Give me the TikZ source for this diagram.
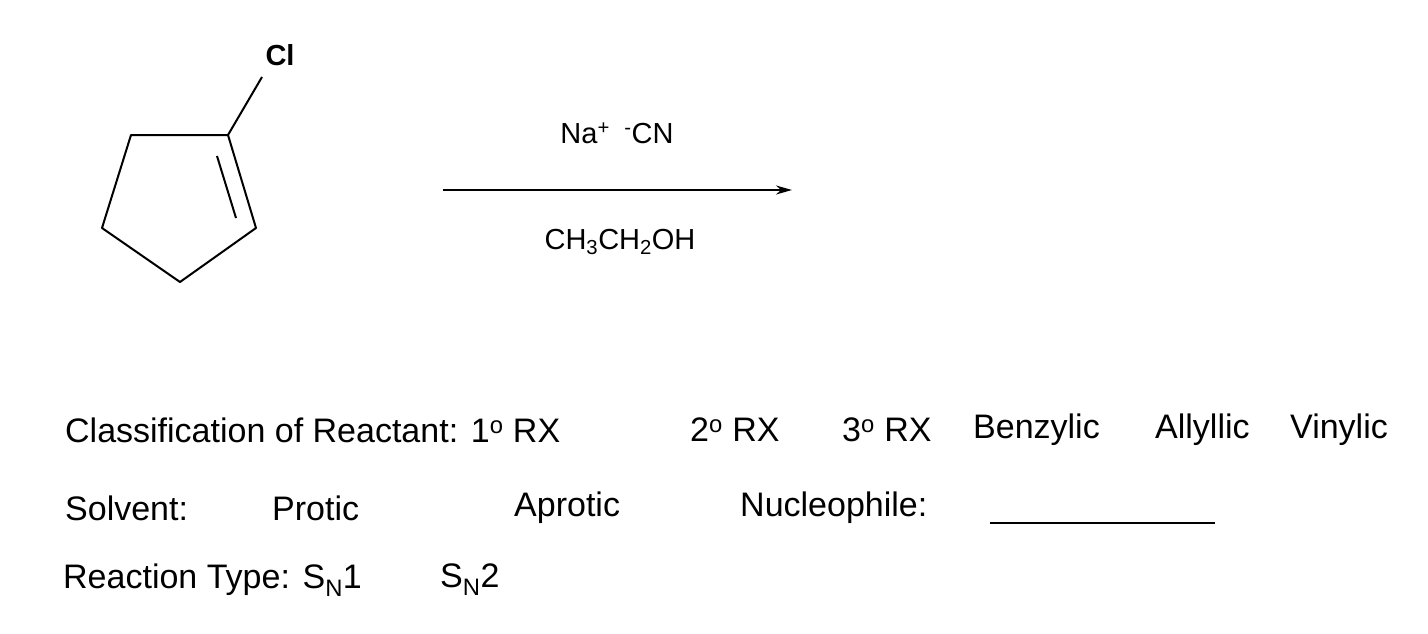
\documentclass[tikz,border=0pt]{standalone}
\usepackage{fontspec}
\setmainfont{Liberation Sans}
\usetikzlibrary{arrows.meta}
\begin{document}
\begin{tikzpicture}[x=1pt,y=-1pt,
  lbl/.style={anchor=west,inner sep=0pt,font=\fontsize{34}{40}\selectfont},
  small/.style={inner sep=0pt,font=\fontsize{29}{34}\selectfont},
  bond/.style={line width=2pt}]
\useasboundingbox (0,0) rectangle (1428,634);
\coordinate (c1) at (228,135);
\coordinate (c2) at (131,135);
\coordinate (c3) at (102,228);
\coordinate (c4) at (180,282);
\coordinate (c5) at (256,228);
\coordinate (d1) at (217,156);
\coordinate (d2) at (236,218);
\node[small,font=\bfseries\fontsize{29}{34}\selectfont] (cl) at (280,55) {Cl};
\draw[bond,line join=round] (c1)--(c2)--(c3)--(c4)--(c5)--cycle;
\draw[bond] (d1)--(d2);
\draw[bond] (c1)--(262,77);
\coordinate (a1) at (443,190);
\coordinate (a2) at (792,190);
\draw[bond,-{Stealth[length=16pt,width=9pt]}] (a1)--(a2);
\node[small] (na) at (617,133) {Na\textsuperscript{+}\enspace\textsuperscript{-}CN};
\node[small] (sol) at (620,242) {CH\textsubscript{3}CH\textsubscript{2}OH};
\node[lbl] (t1) at (65,430) {Classification of Reactant: 1\textsuperscript{o} RX};
\node[lbl] (t2) at (690,430) {2\textsuperscript{o} RX};
\node[lbl] (t3) at (842,430) {3\textsuperscript{o} RX};
\node[lbl] (t4) at (973,430) {Benzylic};
\node[lbl] (t5) at (1155,430) {Allyllic};
\node[lbl] (t6) at (1290,430) {Vinylic};
\node[lbl] (s1) at (65,508) {Solvent:};
\node[lbl] (s2) at (272,508) {Protic};
\node[lbl] (s3) at (514,508) {Aprotic};
\node[lbl] (s4) at (740,508) {Nucleophile:};
\coordinate (u1) at (990,523);
\coordinate (u2) at (1215,523);
\draw[line width=1.8pt] (u1)--(u2);
\node[lbl] (r1) at (63,580) {Reaction Type: S\textsubscript{N}1};
\node[lbl] (r2) at (440,580) {S\textsubscript{N}2};
\end{tikzpicture}
\end{document}
